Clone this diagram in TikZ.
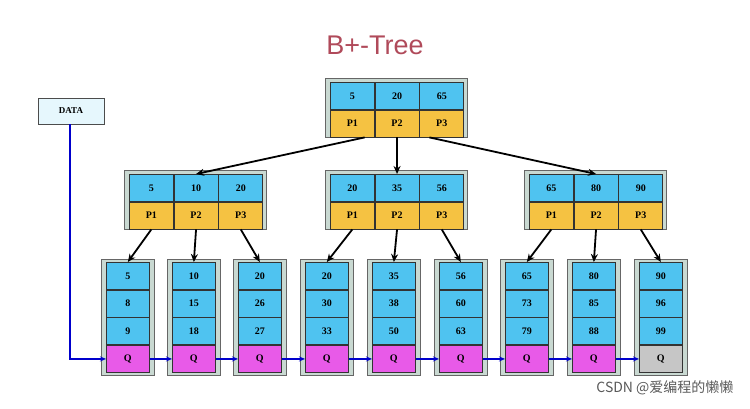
\documentclass[tikz,border=0pt]{standalone}
\usepackage{fontspec}
\newfontfamily\cjk{Noto Sans CJK SC}
\newfontfamily\tnr{Liberation Serif}
\newfontfamily\ars{Liberation Sans}
\usetikzlibrary{arrows.meta}
\definecolor{cblue}{HTML}{4FC3F0}
\definecolor{cyel}{HTML}{F5C242}
\definecolor{cmag}{HTML}{E85AE8}
\definecolor{cframe}{HTML}{C9D9D2}
\definecolor{ctitle}{HTML}{B04A5A}
\tikzset{
 x=1pt,y=-1pt,
 frame/.style={draw=gray!80!black,fill=cframe,line width=0.8pt},
 cell/.style={draw=black!80,line width=0.7pt,minimum width=44pt,minimum height=27pt,inner sep=0pt,font=\tnr\bfseries\fontsize{10}{12}\selectfont},
 kcell/.style={cell,fill=cblue},
 pcell/.style={cell,fill=cyel},
 lcell/.style={cell,minimum width=43pt,fill=cblue},
 qcell/.style={lcell,fill=cmag},
 tarr/.style={-{Stealth[length=8pt,width=7pt]},line width=1.8pt},
 barr/.style={-{Stealth[length=6pt,width=5pt]},line width=1.4pt,draw=blue!80!black},
}
\begin{document}
\begin{tikzpicture}
\useasboundingbox (0,0) rectangle (750,409);
\node[font=\ars\fontsize{27}{30}\selectfont,text=ctitle] (title) at (375,45) {B+-Tree};
\foreach \n/\x/\y/\a/\b/\c in {r/325/78/5/20/65, i1/124/170/5/10/20, i2/325/170/20/35/56, i3/524/170/65/80/90}{
 \draw[frame] (\x,\y) rectangle ++(142,59);
 \node[kcell,anchor=north west] (\n k1) at (\x+5,\y+4) {\a};
 \node[kcell,anchor=west] (\n k2) at (\n k1.east) {\b};
 \node[kcell,anchor=west] (\n k3) at (\n k2.east) {\c};
 \node[pcell,anchor=north] (\n p1) at (\n k1.south) {P1};
 \node[pcell,anchor=north] (\n p2) at (\n k2.south) {P2};
 \node[pcell,anchor=north] (\n p3) at (\n k3.south) {P3};
}
\foreach \i/\x/\a/\b/\c in {1/101/5/8/9, 2/167/10/15/18, 3/233/20/26/27, 4/300/20/30/33, 5/367/35/38/50, 6/434/56/60/63, 7/500/65/73/79, 8/567/80/85/88, 9/634/90/96/99}{
 \draw[frame] (\x,259) rectangle ++(53,116);
 \node[lcell,anchor=north west] (l\i a) at (\x+5,262) {\a};
 \node[lcell,anchor=north] (l\i b) at (l\i a.south) {\b};
 \node[lcell,anchor=north] (l\i c) at (l\i b.south) {\c};
 \node[qcell,anchor=north] (l\i q) at (l\i c.south) {Q};
}
\node[lcell,anchor=north,fill=gray!45] at (l9c.south) {Q};
\draw[tarr] ([xshift=-10pt]rp1.south east) -- (i1k2.north);
\draw[tarr] (rp2.south) -- (i2k2.north);
\draw[tarr] ([xshift=10pt]rp3.south west) -- (i3k2.north);
\foreach \p/\l in {i1/1,i2/4,i3/7}{
 \pgfmathtruncatemacro\m{\l+1}\pgfmathtruncatemacro\n{\l+2}
 \draw[tarr] (\p p1.south) -- (l\l a.north);
 \draw[tarr] (\p p2.south) -- (l\m a.north);
 \draw[tarr] (\p p3.south) -- (l\n a.north);
}
\node[draw=black!70,fill=cyan!10,minimum width=66pt,minimum height=26pt,inner sep=0pt,font=\tnr\bfseries\fontsize{9}{10}\selectfont] (data) at (71,111) {DATA};
\coordinate (dc) at (data.south |- l1q.west);
\draw[barr] ([xshift=-1pt]data.south) -- ([xshift=-1pt]dc) -- (l1q.west);
\foreach \i in {1,...,8}{
 \pgfmathtruncatemacro\j{\i+1}
 \draw[barr] (l\i q.east) -- (l\j q.west);
}
\node[font=\cjk\fontsize{14}{16}\selectfont,text=gray!70!black,anchor=east] (wm) at (737,388) {CSDN @爱编程的懒懒};
\end{tikzpicture}
\end{document}
